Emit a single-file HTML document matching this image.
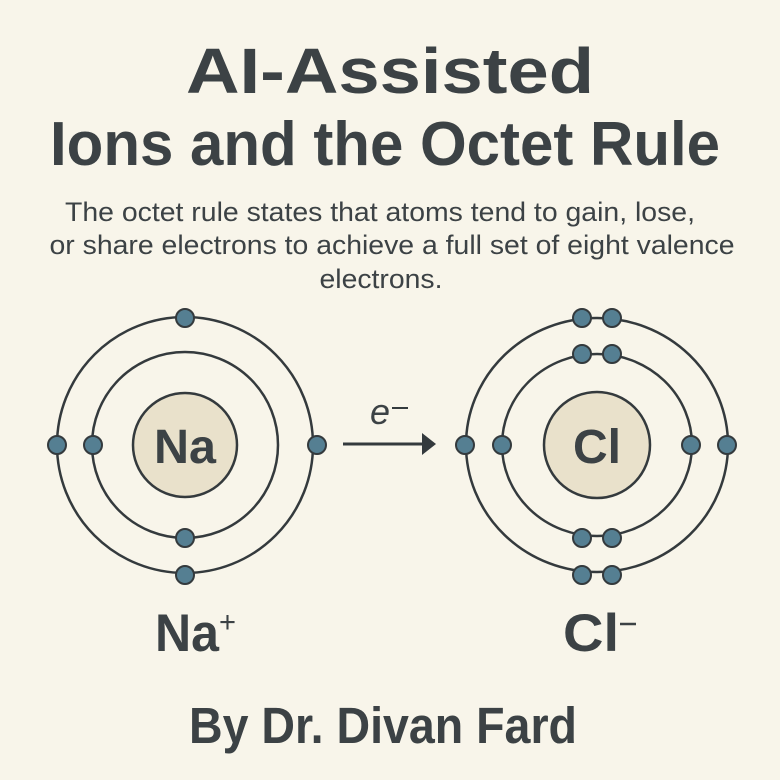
<!DOCTYPE html>
<html><head><meta charset="utf-8"><style>
html,body{margin:0;padding:0;background:#f8f5ea;}
svg{display:block}
text{font-family:"Liberation Sans",sans-serif;fill:#3c4245}
</style></head><body>
<svg width="780" height="780" viewBox="0 0 780 780" xmlns="http://www.w3.org/2000/svg">
<rect width="780" height="780" fill="#f8f5ea"/>
<text x="390" y="93" text-anchor="middle" font-size="64" font-weight="bold" textLength="408" lengthAdjust="spacingAndGlyphs">AI-Assisted</text>
<text x="385" y="165" text-anchor="middle" font-size="62" font-weight="bold" textLength="670" lengthAdjust="spacingAndGlyphs">Ions and the Octet Rule</text>
<text x="380" y="221" text-anchor="middle" font-size="27" textLength="630" lengthAdjust="spacingAndGlyphs">The octet rule states that atoms tend to gain, lose,</text>
<text x="392" y="254" text-anchor="middle" font-size="27" textLength="685" lengthAdjust="spacingAndGlyphs">or share electrons to achieve a full set of eight valence</text>
<text x="381" y="288" text-anchor="middle" font-size="27" textLength="123" lengthAdjust="spacingAndGlyphs">electrons.</text>

<g fill="none" stroke="#343a3d" stroke-width="2.5">
<circle cx="185" cy="445" r="128"/>
<circle cx="185" cy="445" r="93"/>
<circle cx="185" cy="445" r="52" fill="#e9e1cb"/>
<ellipse cx="597" cy="445" rx="131" ry="127"/>
<ellipse cx="597" cy="445" rx="95" ry="91"/>
<circle cx="597" cy="445" r="53" fill="#e9e1cb"/>
</g>
<g fill="#557f92" stroke="#343a3d" stroke-width="2">
<circle cx="185" cy="318" r="9"/>
<circle cx="57" cy="445" r="9"/>
<circle cx="93" cy="445" r="9"/>
<circle cx="317" cy="445" r="9"/>
<circle cx="185" cy="538" r="9"/>
<circle cx="185" cy="575" r="9"/>
<circle cx="582" cy="318" r="9"/><circle cx="612" cy="318" r="9"/>
<circle cx="582" cy="354" r="9"/><circle cx="612" cy="354" r="9"/>
<circle cx="582" cy="538" r="9"/><circle cx="612" cy="538" r="9"/>
<circle cx="582" cy="575" r="9"/><circle cx="612" cy="575" r="9"/>
<circle cx="465" cy="445" r="9"/>
<circle cx="502" cy="445" r="9"/>
<circle cx="691" cy="445" r="9"/>
<circle cx="727" cy="445" r="9"/>
</g>
<text x="185" y="463" text-anchor="middle" font-size="48" font-weight="bold" textLength="62" lengthAdjust="spacingAndGlyphs">Na</text>
<text x="597" y="463" text-anchor="middle" font-size="48" font-weight="bold" textLength="48" lengthAdjust="spacingAndGlyphs">Cl</text>

<line x1="343" y1="444" x2="425" y2="444" stroke="#343a3d" stroke-width="3"/>
<polygon points="422,433 436,444 422,455" fill="#343a3d"/>
<text x="370" y="424" font-family="Liberation Serif,serif" font-style="italic" font-size="36">e</text>
<line x1="392" y1="408" x2="408" y2="408" stroke="#343a3d" stroke-width="2"/>

<text x="155" y="651" font-size="53" font-weight="bold" textLength="64" lengthAdjust="spacingAndGlyphs">Na</text>
<text x="219" y="632" font-size="30" textLength="17" lengthAdjust="spacingAndGlyphs">+</text>
<text x="563" y="651" font-size="53" font-weight="bold" textLength="56" lengthAdjust="spacingAndGlyphs">Cl</text>
<line x1="620" y1="624" x2="636" y2="624" stroke="#3c4245" stroke-width="2.5"/>

<text x="383" y="743" text-anchor="middle" font-size="51" font-weight="bold" textLength="388" lengthAdjust="spacingAndGlyphs">By Dr. Divan Fard</text>
</svg>
</body></html>
